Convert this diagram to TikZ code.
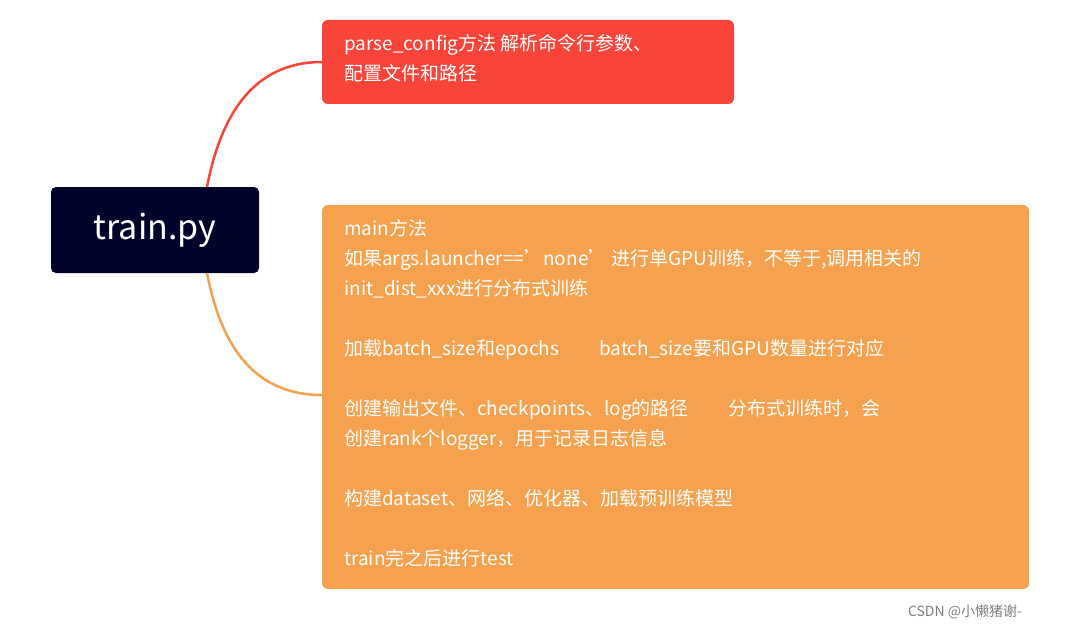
\documentclass[tikz,border=0pt]{standalone}
\usepackage{fontspec}
\setmainfont{Noto Sans CJK SC}
\definecolor{navy}{HTML}{02032B}
\definecolor{redb}{HTML}{F94439}
\definecolor{orab}{HTML}{F5A14D}
\begin{document}
\begin{tikzpicture}[x=1pt,y=-1pt,
  txt/.style={text=white,font=\fontsize{19}{30}\selectfont,align=left,anchor=north west,inner sep=0pt}]
\useasboundingbox[fill=white] (0,0) rectangle (1067,631);
\fill[navy,rounded corners=5pt] (51,187) rectangle (259,273);
\node[text=white,font=\fontsize{34}{40}\selectfont] (root) at (155,230) {train.py};
\fill[redb,rounded corners=6pt] (322,20) rectangle (734,104);
\node[txt] (cfg) at (344,34) {parse\_config方法 解析命令行参数、\\配置文件和路径};
\fill[orab,rounded corners=6pt] (322,205) rectangle (1029,589);
\node[txt] (main) at (344,219) {main方法\\
如果args.launcher=='none' 进行单GPU训练，不等于,调用相关的\\
init\_dist\_xxx进行分布式训练\\ \mbox{}\\
加载batch\_size和epochs\hspace{40pt}batch\_size要和GPU数量进行对应\\ \mbox{}\\
创建输出文件、checkpoints、log的路径\hspace{40pt}分布式训练时，会\\
创建rank个logger，用于记录日志信息\\ \mbox{}\\
构建dataset、网络、优化器、加载预训练模型\\ \mbox{}\\
train完之后进行test};
\coordinate (a) at (207,187);
\coordinate (b) at (207,273);
\coordinate (ra) at (322,62);
\coordinate (oa) at (322,395);
\draw[redb,line width=2.5pt] (a) .. controls (220,120) and (250,62) .. (ra);
\draw[orab,line width=2.5pt] (b) .. controls (220,340) and (250,395) .. (oa);
\node[text=gray,font=\fontsize{14}{16}\selectfont] (wm) at (965,612) {CSDN @小懒猪谢-};
\end{tikzpicture}
\end{document}
